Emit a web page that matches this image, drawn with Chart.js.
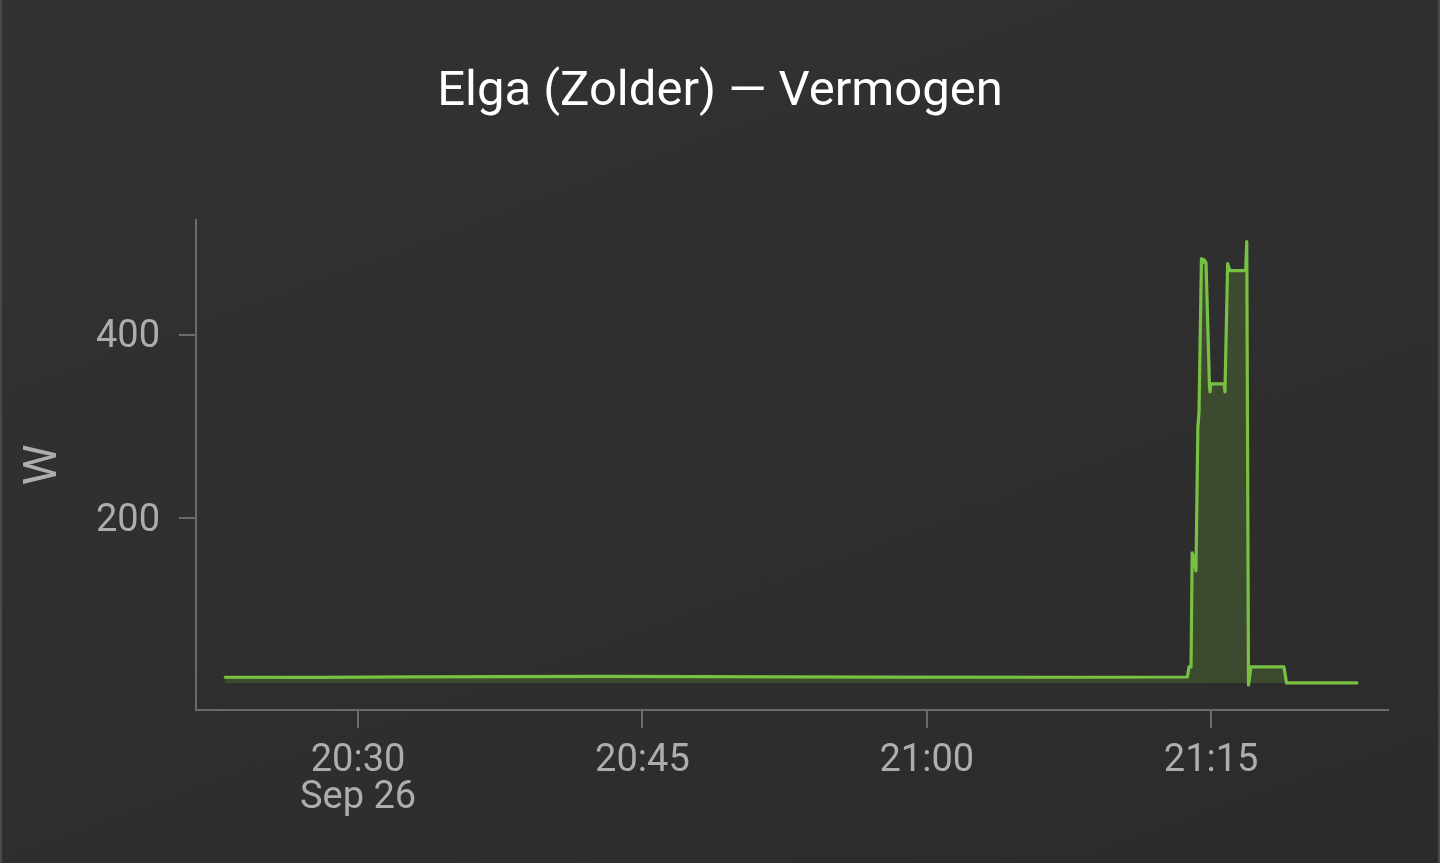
<!DOCTYPE html>
<html>
<head>
<meta charset="utf-8">
<script src="https://cdn.jsdelivr.net/npm/chart.js@4.4.1/dist/chart.umd.min.js"></script>
<style>
  html, body { margin: 0; padding: 0; }
  body { width: 1440px; height: 863px; overflow: hidden;
         background: linear-gradient(160deg, #323232 0%, #2f2f2f 50%, #2b2b2b 100%); }
  #wrap { position: relative; width: 1440px; height: 863px; }
  #edge { position: absolute; left: 0; top: 0; width: 1440px; height: 863px; box-sizing: border-box;
          border-left: 2px solid #4a4a4a; border-right: 2px solid #4a4a4a; pointer-events: none; }
</style>
</head>
<body>
<div id="wrap"><canvas id="c"></canvas><div id="edge"></div></div>
<script>
// Time in minutes since midnight (Sep 26), power in W
const times = [
  1222.99, 1227.73, 1232.74, 1237.81, 1242.87, 1257.85, 1267.76,
  1273.75, 1273.83, 1273.94, 1274.00, 1274.09, 1274.20, 1274.30, 1274.36, 1274.49, 1274.57,
  1274.62, 1274.73, 1274.91, 1274.94, 1274.99, 1275.68, 1275.73, 1275.87, 1275.99, 1276.82,
  1276.88, 1276.97, 1277.10, 1278.84, 1278.98, 1282.69
];
const watts = [
  26.5, 26.3, 27.0, 27.2, 27.4, 26.6, 26.5,
  26.8, 37.8, 37.8, 162.1, 156.7, 142.5, 299.4, 315.8, 483.2, 478.8,
  482.1, 478.8, 345.5, 337.9, 346.6, 346.6, 337.9, 477.7, 470.1, 470.1,
  501.8, 18.1, 37.8, 37.8, 20.3, 20.3
];
const xTicks = [1230, 1245, 1260, 1275];
const yTicks = [200, 400];
const dateLabel = 'Sep 26';
const titleText = 'Elga (Zolder) — Vermogen';
const yTitle = 'W';
const fillBase = 20.3;

const points = times.map((t, i) => ({ x: t, y: watts[i] }));
const fmt = m => {
  const h = Math.floor(m / 60), mm = Math.round(m - h * 60);
  return String(h).padStart(2, '0') + ':' + String(mm).padStart(2, '0');
};

const axisColor = '#6b6b6b';
const tickColor = '#adadad';

new Chart(document.getElementById('c'), {
  type: 'line',
  data: {
    datasets: [{
      data: points,
      borderColor: '#79c142',
      borderWidth: 3.2,
      borderJoinStyle: 'round',
      borderCapStyle: 'round',
      backgroundColor: 'rgba(118,190,58,0.2)',
      fill: { value: fillBase },
      pointRadius: 0,
      tension: 0
    }]
  },
  options: {
    responsive: true,
    maintainAspectRatio: false,
    animation: false,
    devicePixelRatio: 1,
    layout: { padding: { left: 0, right: 0, top: 0, bottom: 0 } },
    plugins: {
      legend: { display: false },
      tooltip: { enabled: false },
      title: {
        display: true,
        text: titleText,
        color: '#ffffff',
        font: { family: 'Roboto', size: 49, weight: 'normal', lineHeight: 1.2 },
        padding: { top: 63, bottom: 98 }
      }
    },
    scales: {
      x: {
        type: 'linear',
        min: 1221.45,
        max: 1284.33,
        afterBuildTicks: s => { s.ticks = xTicks.map(v => ({ value: v })); },
        afterFit: s => { s.height = 153; },
        grid: { display: true, drawOnChartArea: false, drawTicks: true, tickLength: 18,
                color: axisColor, lineWidth: 2 },
        border: { display: true, color: axisColor, width: 2 },
        ticks: {
          color: tickColor,
          padding: 15,
          maxRotation: 0,
          autoSkip: false,
          font: { family: 'Roboto', size: 38, lineHeight: 0.97 },
          callback: (v, i) => i === 0 ? [fmt(v), dateLabel] : fmt(v)
        }
      },
      y: {
        type: 'linear',
        min: -9.2,
        max: 525.5,
        afterBuildTicks: s => { s.ticks = yTicks.map(v => ({ value: v })); },
        afterFit: s => { s.width = 196; },
        grid: { display: true, drawOnChartArea: false, drawTicks: true, tickLength: 17,
                color: axisColor, lineWidth: 2 },
        border: { display: true, color: axisColor, width: 2 },
        title: {
          display: true,
          text: yTitle,
          color: tickColor,
          font: { family: 'Roboto', size: 46, lineHeight: 1.2 },
          padding: { top: 17, bottom: 0 }
        },
        ticks: {
          color: tickColor,
          padding: 19,
          labelOffset: 3,
          font: { family: 'Roboto', size: 38 },
          callback: v => String(v)
        }
      },
      yRight: {
        type: 'linear',
        position: 'right',
        display: true,
        min: 0,
        max: 1,
        afterFit: s => { s.width = 52; },
        grid: { display: false },
        border: { display: false },
        ticks: { display: false }
      }
    }
  }
});
</script>
</body>
</html>
